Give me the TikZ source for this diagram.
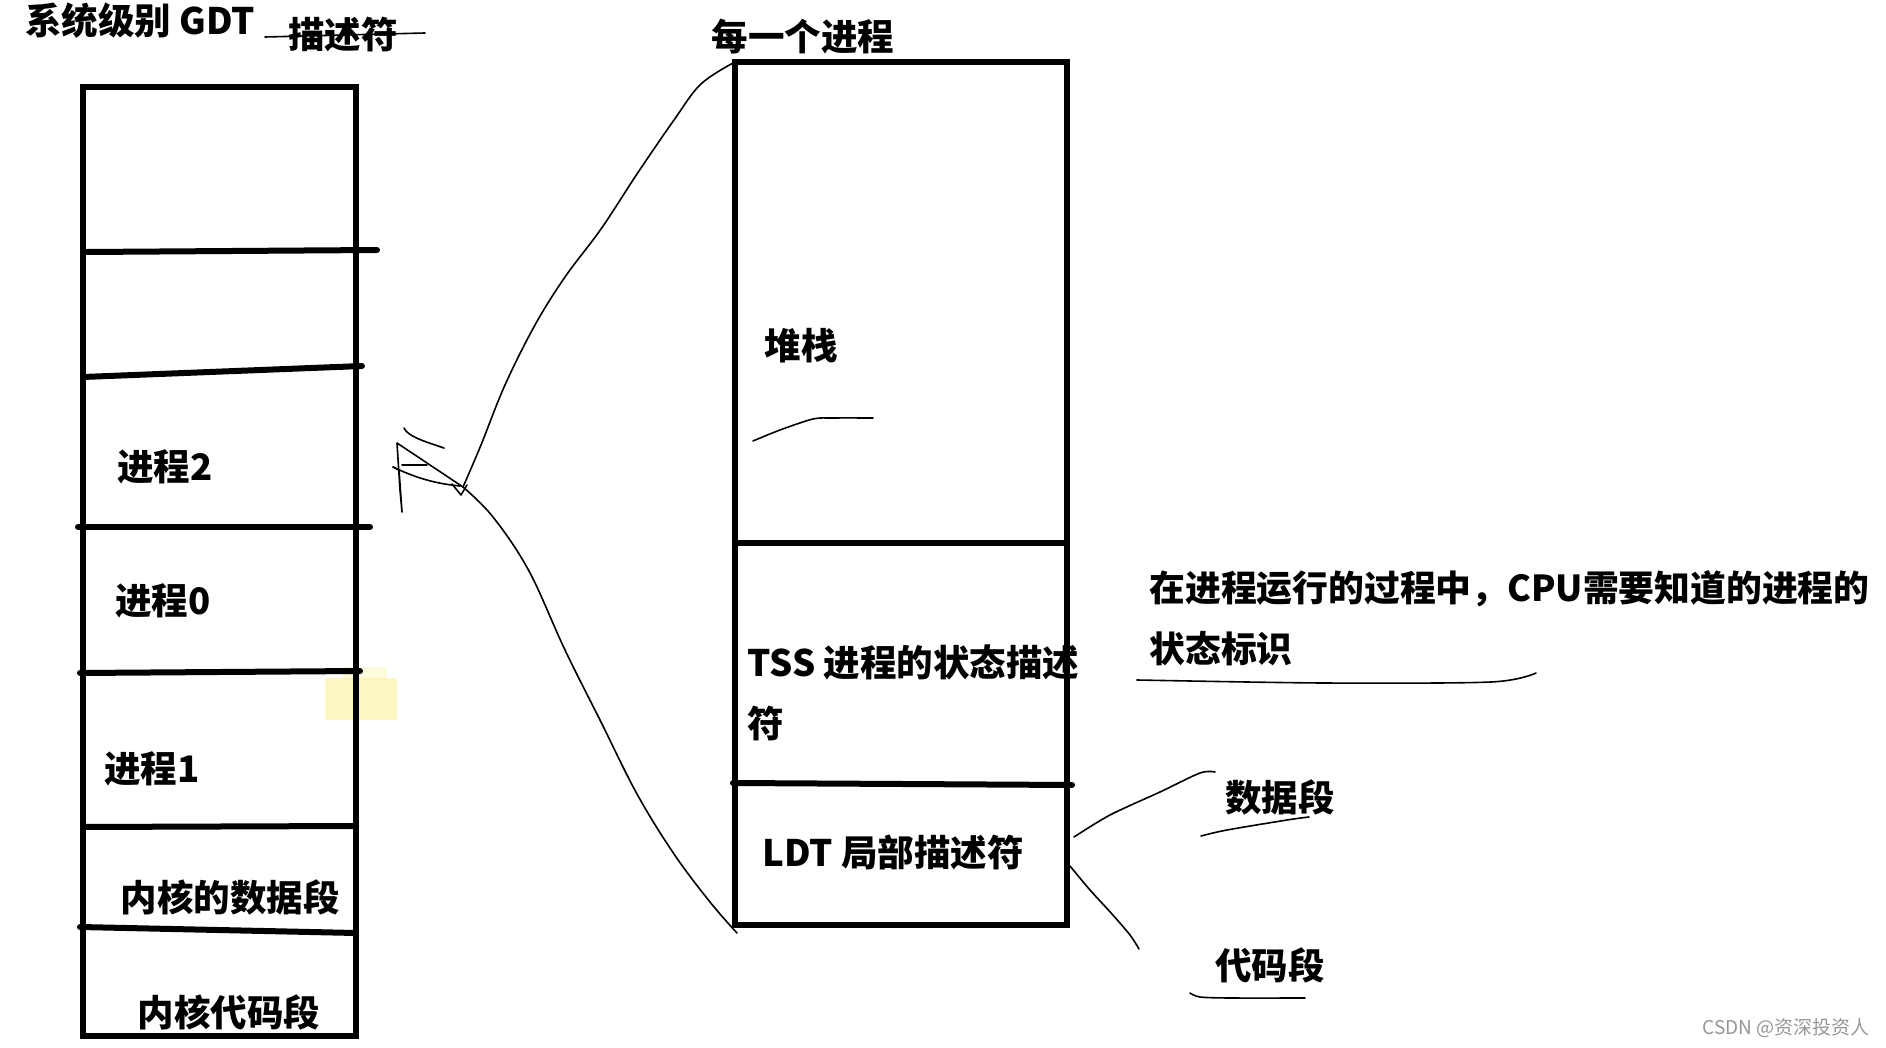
\documentclass[tikz,border=0pt]{standalone}
\usepackage{fontspec}
\setmainfont{Noto Sans CJK SC}
\usetikzlibrary{positioning}
\definecolor{Hilite}{RGB}{252,243,168}
\definecolor{MarkGray}{RGB}{150,150,150}

\begin{document}
\begin{tikzpicture}[x=0.5pt,y=-0.5pt,node distance=16pt,
  frame/.style={line width=3pt,line cap=round},
  pen/.style={line width=0.8pt,line cap=round,line join=round},
  lbl/.style={font=\fontsize{18.25}{30.5}\selectfont\bfseries,inner sep=0pt}]
  \useasboundingbox (0,0) rectangle (1886,1048);

  % titles
  \node[lbl,anchor=west] (gdttitle) at (25,21) {系统级别 GDT};
  \node[lbl,right=16pt of gdttitle,yshift=-7pt] (desctitle) {描述符};
  \draw[pen] (265,37) -- (425,33);
  \node[lbl] (proctitle) at (803,37) {每一个进程};

  % cursor mark
  \fill[Hilite,opacity=.7] (325,678) rectangle (397,720);
  \fill[Hilite,opacity=.4] (342,667) rectangle (387,680);

  % system GDT
  \coordinate (gdt-nw) at (83,87);
  \coordinate (gdt-se) at (356,1036);
  \draw[frame] (gdt-nw) rectangle (gdt-se);
  \draw[frame] (87,252) -- (377,250);
  \draw[frame] (83,377) -- (362,366);
  \draw[frame] (78,527) -- (370,527);
  \draw[frame] (80,673) -- (360,671);
  \draw[frame] (83,827) -- (356,826);
  \draw[frame] (80,927) -- (356,933);
  \node[lbl,anchor=west] (proc2) at (117,467) {进程2};
  \node[lbl,anchor=west] (proc0) at (115,601) {进程0};
  \node[lbl,anchor=west] (proc1) at (104,769) {进程1};
  \node[lbl] (kdata) at (230,897) {内核的数据段};
  \node[lbl] (kcode) at (229,1012) {内核代码段};

  % one process
  \coordinate (proc-nw) at (735,62);
  \coordinate (proc-se) at (1067,925);
  \draw[frame] (proc-nw) rectangle (proc-se);
  \draw[frame] (735,543) -- (1067,543);
  \draw[frame] (733,783) -- (1072,785);
  \node[lbl] (stack) at (801,346) {堆栈};
  \draw[pen] plot[smooth] coordinates {(753,441) (780,430) (813,419) (833,418) (873,418)};
  \node[lbl,anchor=north west,align=left] (tss) at (747,644) {TSS 进程的状态描述\\符};
  \node[lbl,anchor=west] (ldt) at (762,852) {LDT 局部描述符};

  % zoom lines
  \coordinate (tip) at (463,487);
  \coordinate (proc-sw) at (737,933);
  \draw[pen] plot[smooth,tension=.6] coordinates {(proc-nw) (701,84) (674,120) (637,174) (601,229) (565,277) (535,325) (505,385) (481,445) (tip)};
  \draw[pen] plot[smooth,tension=.6] coordinates {(tip) (493,517) (529,571) (565,650) (601,722) (637,794) (674,854) (710,902) (proc-sw)};
  \draw[pen] (tip) -- (397,443) -- (400,490) -- (402,512) -- (399,470) -- (393,467);
  \draw[pen] (402,465) -- (427,465);
  \draw[pen] (393,467) .. controls (420,480) and (440,484) .. (460,486);
  \draw[pen] (404,428) .. controls (408,436) and (420,440) .. (444,448);
  \draw[pen] (452,484) -- (461,495) -- (467,485);

  % segments in LDT
  \coordinate (ldt-up) at (1074,837);
  \coordinate (ldt-dn) at (1070,866);
  \draw[pen] plot[smooth] coordinates {(ldt-up) (1110,815) (1160,792) (1200,773) (1215,772)};
  \draw[pen] plot[smooth] coordinates {(ldt-dn) (1090,890) (1112,914) (1130,935) (1139,949)};
  \node[lbl] (dseg) at (1280,797) {数据段};
  \draw[pen] plot[smooth] coordinates {(1201,836) (1227,830) (1287,820) (1309,817)};
  \node[lbl] (cseg) at (1270,965) {代码段};
  \draw[pen] plot[smooth] coordinates {(1190,993) (1200,997) (1230,998) (1305,998)};

  % note
  \node[lbl,font=\fontsize{17.9}{30.5}\selectfont\bfseries,anchor=north west,align=left] (note) at (1149,570) {在进程运行的过程中，CPU需要知道的进程的\\状态标识};
  \draw[pen] plot[smooth] coordinates {(1137,680) (1323,683) (1491,682) (1536,673)};

  \node[font=\fontsize{9.5}{11}\selectfont,text=MarkGray,anchor=east,inner sep=0pt] (mark) at (1870,1028) {CSDN @资深投资人};
\end{tikzpicture}
\end{document}
